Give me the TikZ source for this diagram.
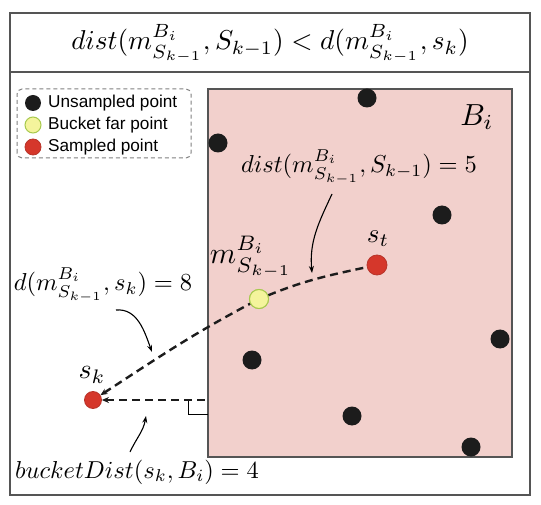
\documentclass[tikz,border=0pt]{standalone}
\usepackage{amsmath}
\usepackage{graphicx}
\usepackage{fontspec}
\newfontfamily\legendfont{Liberation Sans}
\usetikzlibrary{arrows.meta}
\definecolor{bucketpink}{HTML}{F2D0CC}
\definecolor{framegray}{HTML}{555555}
\definecolor{dotblack}{HTML}{1C1C1C}
\definecolor{dotred}{HTML}{D5372B}
\definecolor{dotredline}{HTML}{B8342A}
\definecolor{dotyellow}{HTML}{F4F49C}
\definecolor{dotyellowline}{HTML}{A8C94E}
\newcommand{\scaledmath}[2]{\scalebox{#1}{$#2$}}
\tikzset{
  unsampled/.style={circle, fill=dotblack, inner sep=0pt, minimum size=19pt},
  sampled/.style={circle, fill=dotred, draw=dotredline, line width=0.8pt, inner sep=0pt, minimum size=#1},
  farpoint/.style={circle, fill=dotyellow, draw=dotyellowline, line width=1pt, inner sep=0pt, minimum size=19pt},
  legdot/.style={circle, inner sep=0pt, minimum size=16pt},
  legtext/.style={anchor=west, inner sep=0pt, font=\legendfont\fontsize{17.2}{19}\selectfont},
  dashline/.style={line width=2.4pt, dash pattern=on 8pt off 5pt, dotblack},
  callout/.style={line width=1.1pt, -{Stealth[length=7pt,width=5pt]}},
  mathlab/.style={inner sep=0pt},
}
\begin{document}
\begin{tikzpicture}[x=1pt,y=1pt]
\useasboundingbox (0,0) rectangle (541,504);
% outer frame and title
\draw[framegray, line width=1.4pt] (10,9) rectangle (530,491);
\draw[framegray, line width=1.4pt] (10,432) -- (530,432);
\node[mathlab] (title) at (270,460) {\scaledmath{2.73}{dist(m^{B_i}_{S_{k-1}}, S_{k-1}) < d(m^{B_i}_{S_{k-1}}, s_k)}};
% bucket
\draw[framegray, fill=bucketpink, line width=1.2pt] (208,47) rectangle (512,415);
\node[mathlab] (bi) at (477,387) {\scaledmath{3.05}{B_i}};
% legend
\draw[gray, line width=1pt, dash pattern=on 4pt off 3pt, rounded corners=5pt] (17,346) rectangle (191,415);
\node[legdot, fill=dotblack] (l1) at (33,401) {};
\node[legdot, fill=dotyellow, draw=dotyellowline, line width=1pt] (l2) at (33,379) {};
\node[legdot, fill=dotred, draw=dotredline, line width=0.8pt] (l3) at (33,357) {};
\node[legtext] (t1) at (48,401) {Unsampled point};
\node[legtext] (t2) at (48,379) {Bucket far point};
\node[legtext] (t3) at (48,357) {Sampled point};
% unsampled points
\node[unsampled] (u1) at (367,406) {};
\node[unsampled] (u2) at (218,361) {};
\node[unsampled] (u3) at (442,289) {};
\node[unsampled] (u4) at (252,144) {};
\node[unsampled] (u5) at (500,165) {};
\node[unsampled] (u6) at (352,88) {};
\node[unsampled] (u7) at (471,57) {};
% key points
\coordinate (foot) at (208,104);
\coordinate (ra1) at (188,104);
\coordinate (ra2) at (188,90);
\coordinate (ra3) at (208,90);
\draw[line width=1pt] (ra1) -- (ra2) -- (ra3);
\node[farpoint] (m) at (259,205) {};
\node[sampled=20pt] (st) at (377,239) {};
\node[sampled=17pt] (sk) at (93,104) {};
\draw[dashline, {Stealth[length=7pt,width=6pt]}-] (sk) to[out=33,in=208] (m);
\draw[dashline] (m) to[out=22,in=192] (st);
\draw[dashline, {Stealth[length=7pt,width=6pt]}-] (sk) -- (foot);
\node[farpoint] at (m) {};
% labels
\node[mathlab] (mlab) at (251,247) {\scaledmath{3.0}{m^{B_i}_{S_{k-1}}}};
\node[mathlab] (stlab) at (378,265) {\scaledmath{2.7}{s_t}};
\node[mathlab] (sklab) at (92,129) {\scaledmath{2.8}{s_k}};
\node[mathlab] (distlab) at (359,337) {\scaledmath{2.45}{dist(m^{B_i}_{S_{k-1}}, S_{k-1}) = 5}};
\node[mathlab] (dlab) at (103,219) {\scaledmath{2.45}{d(m^{B_i}_{S_{k-1}}, s_k) = 8}};
\node[mathlab] (bdlab) at (137,32) {\scaledmath{2.45}{bucketDist(s_k, B_i) = 4}};
% callout arrows
\coordinate (a1s) at (332,310);
\coordinate (a1e) at (312,231);
\coordinate (a2s) at (116,194);
\coordinate (a2e) at (152,152);
\coordinate (a3s) at (130,52);
\coordinate (a3e) at (146,88);
\draw[callout] (a1s) to[out=245,in=95] (a1e);
\draw[callout] (a2s) to[out=5,in=110] (a2e);
\draw[callout] (a3s) to[out=65,in=260] (a3e);
\end{tikzpicture}
\end{document}
